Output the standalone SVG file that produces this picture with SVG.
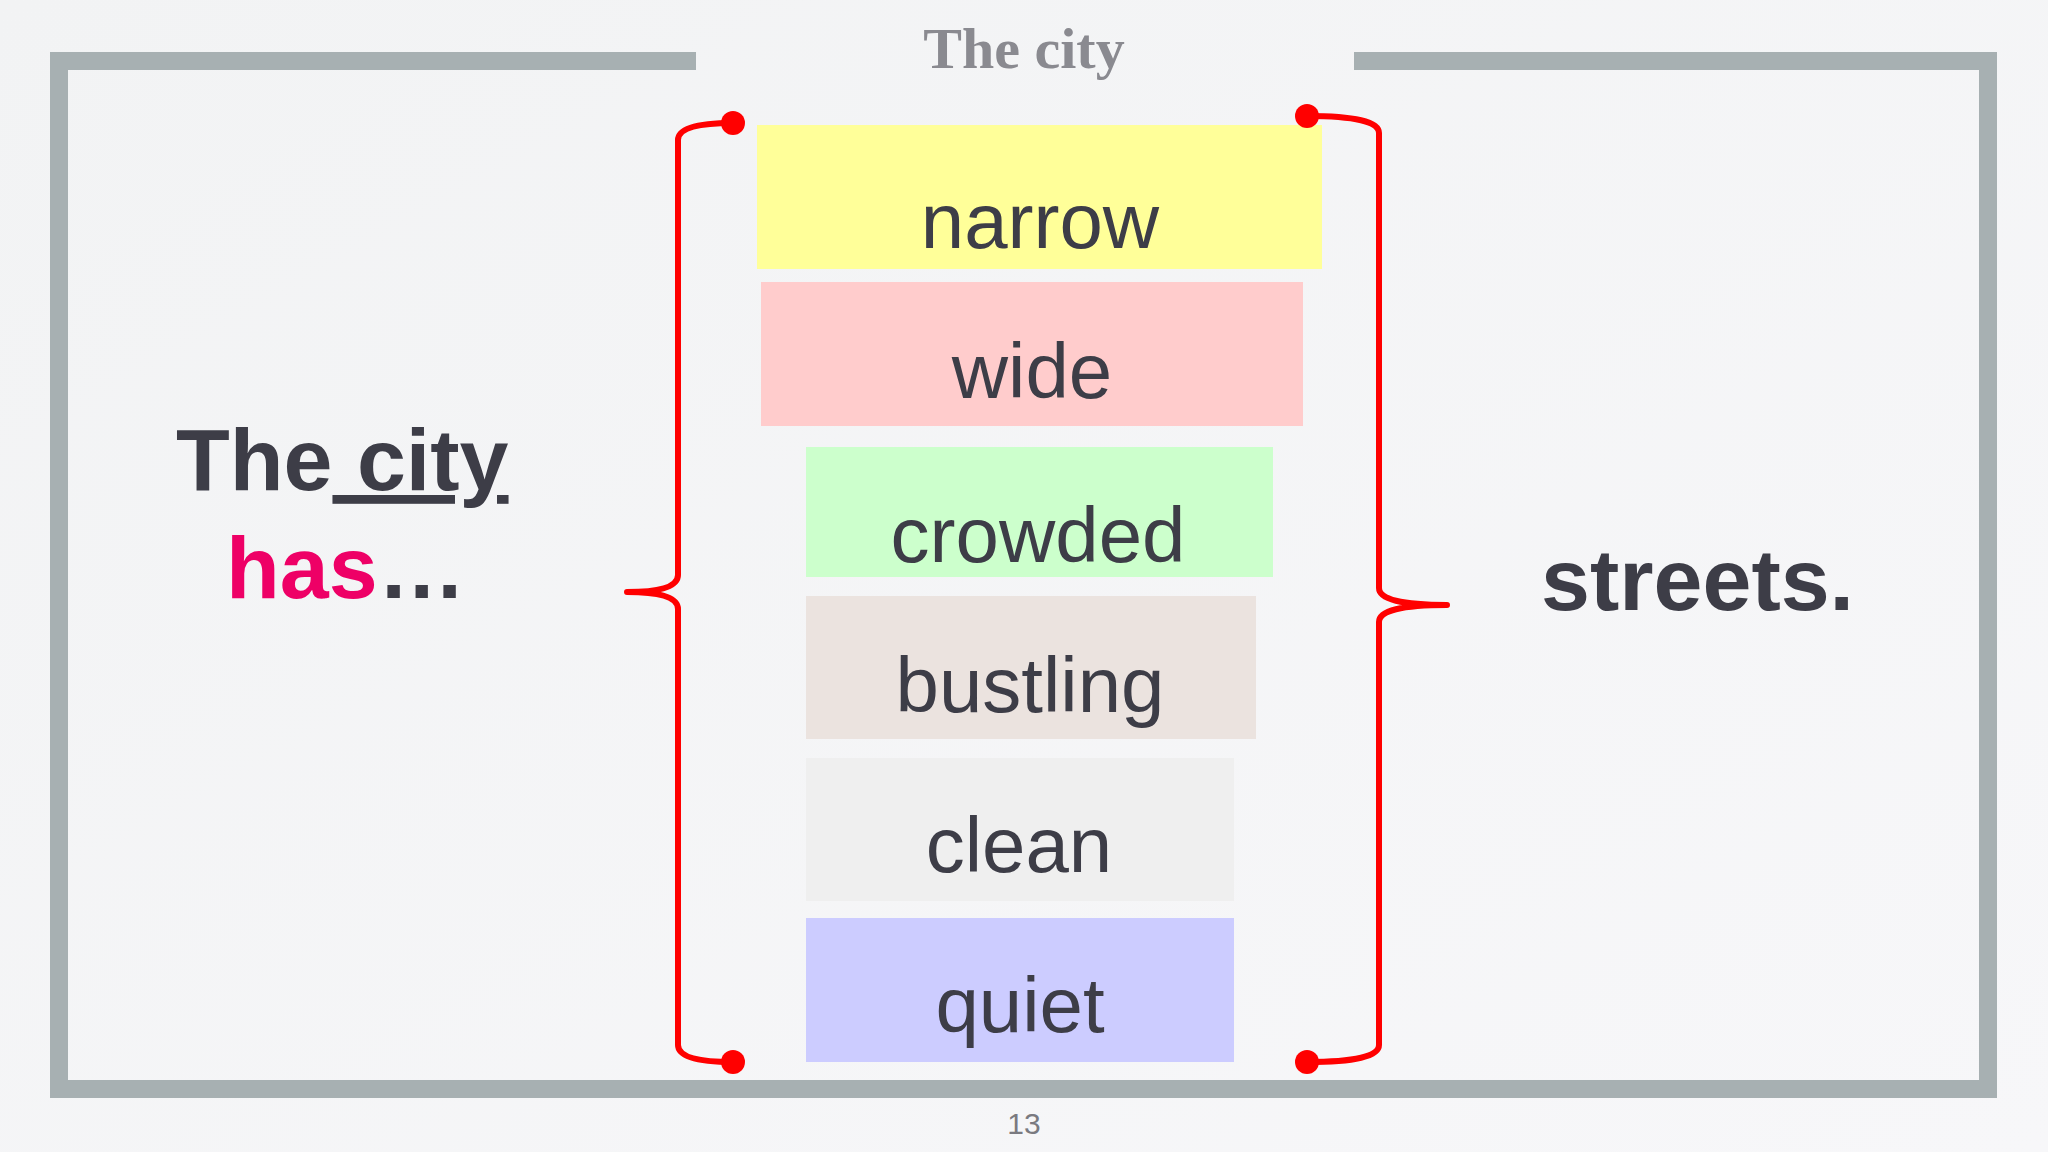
<svg xmlns="http://www.w3.org/2000/svg" width="2048" height="1152" viewBox="0 0 2048 1152">
<defs>
<linearGradient id="bg" x1="0" y1="0" x2="1" y2="1"><stop offset="0" stop-color="#f2f3f4"/><stop offset="1" stop-color="#f7f7f9"/></linearGradient>
</defs>
<style>
.w{font-family:"Liberation Sans",Arial,sans-serif;font-size:78px;fill:#3d3d47;text-anchor:middle}
.b{font-family:"Liberation Sans",Arial,sans-serif;font-size:88px;font-weight:bold;fill:#3d3d47}
.br{fill:none;stroke:#ff0000;stroke-width:6;stroke-linejoin:round}
.dot{fill:#ff0000}
</style>
<rect width="2048" height="1152" fill="url(#bg)"/>
<g id="frame" fill="none" stroke="#a7b0b2" stroke-width="18">
<polyline points="696,61 59,61 59,1089 1988,1089 1988,61 1354,61"/>
</g>
<text x="1024" y="68" font-family="Liberation Serif,serif" font-size="58" font-weight="bold" fill="#8a8a90" text-anchor="middle">The city</text>
<g id="narrow"><rect x="757" y="125" width="565" height="144" fill="#ffff99"/><text class="w" x="1040" y="248">narrow</text></g>
<g id="wide"><rect x="761" y="282" width="542" height="144" fill="#ffcccc"/><text class="w" x="1032" y="398">wide</text></g>
<g id="crowded"><rect x="806" y="447" width="467" height="130" fill="#ccffcc"/><text class="w" x="1038" y="562">crowded</text></g>
<g id="bustling"><rect x="806" y="596" width="450" height="143" fill="#ebe3df"/><text class="w" x="1030" y="712">bustling</text></g>
<g id="clean"><rect x="806" y="758" width="428" height="143" fill="#efefef"/><text class="w" x="1019" y="872">clean</text></g>
<g id="quiet"><rect x="806" y="918" width="428" height="144" fill="#ccccff"/><text class="w" x="1020" y="1032">quiet</text></g>
<g id="connectors">
<path class="br" d="M733,123 Q678,123 678,140 L678,575 Q678,592 627,592 Q678,592 678,609 L678,1045 Q678,1062 733,1062"/>
<circle class="dot" cx="733" cy="123" r="12"/><circle class="dot" cx="733" cy="1062" r="12"/>
<path class="br" d="M1307,116 Q1379,116 1379,133 L1379,588 Q1379,605 1447,605 Q1379,605 1379,622 L1379,1045 Q1379,1062 1307,1062"/>
<circle class="dot" cx="1307" cy="116" r="12"/><circle class="dot" cx="1307" cy="1062" r="12"/>
</g>
<g id="left">
<text class="b" x="176" y="490">The<tspan text-decoration="underline"> city</tspan></text>
<text class="b" x="226" y="598"><tspan fill="#ee0066">has</tspan>…</text>
</g>
<g id="right"><text class="b" x="1541" y="610">streets.</text></g>
<text x="1024" y="1134" font-family="Liberation Sans,Arial,sans-serif" font-size="30" fill="#7a7a80" text-anchor="middle">13</text>
</svg>
